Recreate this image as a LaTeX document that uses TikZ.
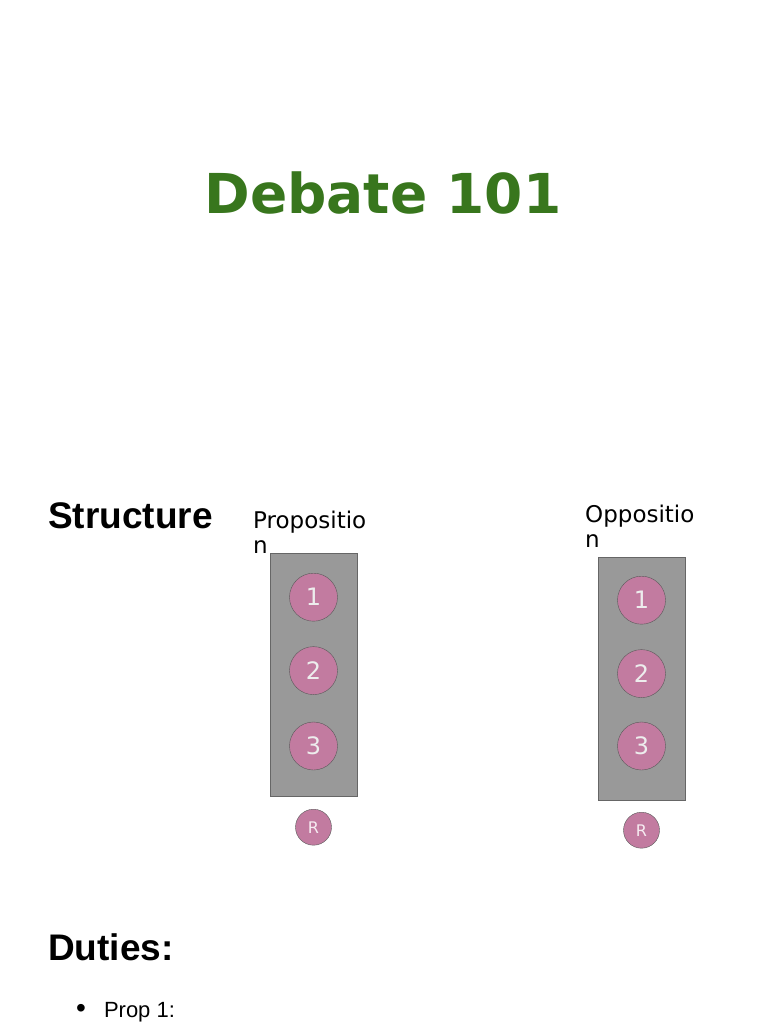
\documentclass[tikz,border=0pt]{standalone}
\usepackage{fontspec}
\setmainfont{DejaVu Sans}
\newfontfamily\arialfont{Liberation Sans}
\usetikzlibrary{calc,positioning}

\definecolor{titleGreen}{HTML}{38761D}
\definecolor{speakerPink}{HTML}{C27BA0}
\definecolor{benchGray}{HTML}{999999}

\begin{document}
\begin{tikzpicture}[x=1pt,y=-1pt]
    \tikzstyle{bench} = [draw=black!60, fill=benchGray, outer sep=0pt, anchor=north west, minimum width=\benchWidth, minimum height=\benchHeight]
    \tikzstyle{speaker} = [circle, draw=black!65, fill=speakerPink, inner sep=0pt, minimum size=48pt, text=white!93!black, font=\fontsize{24}{24}\selectfont]
    \tikzstyle{reply} = [speaker, minimum size=36pt, text=white!85!speakerPink, font=\fontsize{16}{16}\selectfont]
    \tikzstyle{side label} = [anchor=base west, inner sep=0pt, align=left, font=\fontsize{23}{25}\selectfont]
    \tikzstyle{heading} = [anchor=base west, inner sep=0pt, font=\arialfont\bfseries\fontsize{37}{37}\selectfont]

    \def\benchWidth{87pt}
    \def\benchHeight{243pt}

    \useasboundingbox (0,0) rectangle (768,1024);

    \node (title) [%
        anchor=base,
        text=titleGreen,
        font=\bfseries\fontsize{55}{55}\selectfont,
    ] at (383,214) {Debate 101};

    \node (structure) [heading] at (48,528) {Structure};

    % proposition bench
    \node (propLabel) [side label] at (253,553) {Propositio\\n};
    \node (propBench) [bench] at (270,553) {};
    \node (prop1) [speaker, below=20pt of propBench.north] {1};
    \node (prop2) [speaker, below=25pt of prop1] {2};
    \node (prop3) [speaker, below=27pt of prop2] {3};
    \node (propR) [reply, below=13pt of propBench.south] {R};

    % opposition bench
    \node (oppLabel) [side label] at (585,547) {Oppositio\\n};
    \node (oppBench) [bench] at (598,557) {};
    \node (opp1) [speaker, below=19pt of oppBench.north] {1};
    \node (opp2) [speaker, below=25pt of opp1] {2};
    \node (opp3) [speaker, below=24pt of opp2] {3};
    \node (oppR) [reply, below=12pt of oppBench.south] {R};

    \node (duties) [heading] at (48,960) {Duties:};

    \node (prop1Duty) [%
        anchor=base west,
        inner sep=0pt,
        font=\arialfont\fontsize{22}{22}\selectfont,
    ] at (76,1017) {{\fontsize{28}{28}\selectfont•}\hspace{18pt}Prop 1:};
\end{tikzpicture}
\end{document}
